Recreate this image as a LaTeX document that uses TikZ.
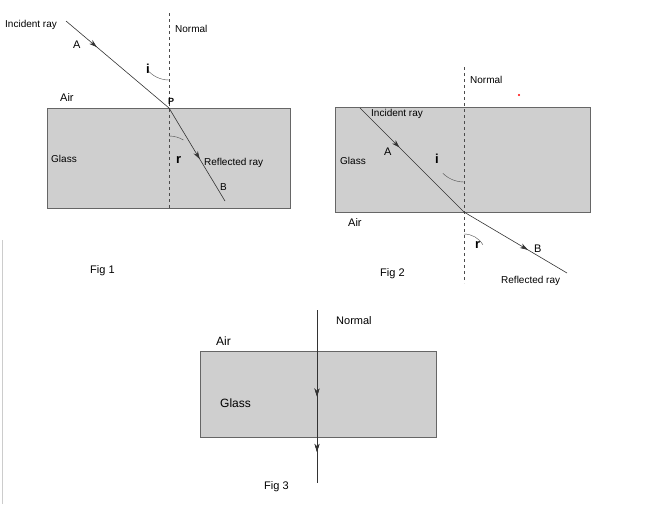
\documentclass[tikz,border=0pt]{standalone}
\usepackage{fontspec}
\setmainfont{Liberation Sans}
\usetikzlibrary{arrows.meta,decorations.markings}
\begin{document}
\begin{tikzpicture}[x=1pt,y=-1pt,
  lbl/.style={inner sep=0pt,anchor=west,font=\fontsize{11}{12}\selectfont},
  slbl/.style={inner sep=0pt,anchor=west,font=\fontsize{10}{11}\selectfont},
  blbl/.style={inner sep=0pt,anchor=west,font=\fontsize{13}{14}\selectfont\bfseries},
  slab/.style={draw=gray!80!black,fill=black!19},
  normal/.style={dashed,gray!60!black,thin},
  ray/.style={draw=black!80,semithick},
  marr/.style={postaction={decorate},decoration={markings,mark=at position #1 with {\arrow{Stealth[length=8pt,width=5pt]}}}}]
\useasboundingbox (0,0) rectangle (660,504);
\draw[gray!40] (2,240) -- (2,504);
% Fig 1
\node[slab,minimum width=243,minimum height=100,inner sep=0,anchor=north west] (s1) at (47,108) {};
\coordinate (n1t) at (169,13); \coordinate (n1b) at (169,208);
\draw[normal] (n1t) -- (n1b);
\coordinate (a1) at (66,21); \coordinate (p1) at (169,108); \coordinate (b1) at (225,201);
\draw[ray,marr=0.3] (a1) -- (p1);
\draw[ray,marr=0.55] (p1) -- (b1);
\draw[black!70] (169,80) arc[start angle=90,end angle=140.2,radius=28];
\draw[black!70] (169,136) arc[start angle=270,end angle=301,radius=28];
\node[slbl] (t1) at (5,25) {Incident ray};
\node[lbl] (t2) at (73,45) {A};
\node[slbl] (t3) at (175,29) {Normal};
\node[blbl] (t4) at (146,69) {i};
\node[lbl] (t5) at (60,98) {Air};
\node[slbl,font=\fontsize{9}{10}\selectfont\bfseries] (t6) at (168,101) {P};
\node[slbl] (t7) at (51,159) {Glass};
\node[blbl] (t8) at (176,160) {r};
\node[slbl] (t9) at (204,163) {Reflected ray};
\node[slbl] (t10) at (220,187) {B};
\node[lbl] (t11) at (90,271) {Fig 1};
% Fig 2
\node[slab,minimum width=255,minimum height=105,inner sep=0,anchor=north west] (s2) at (335,107) {};
\coordinate (n2t) at (464,67); \coordinate (n2b) at (464,283);
\draw[normal] (n2t) -- (n2b);
\coordinate (a2) at (360,108); \coordinate (p2) at (464,212); \coordinate (b2) at (567,273);
\draw[ray,marr=0.38] (a2) -- (p2);
\draw[ray,marr=0.62] (p2) -- (b2);
\draw[black!70] (464,182) arc[start angle=90,end angle=135,radius=30];
\draw[black!70] (464,234) arc[start angle=270,end angle=329,radius=22];
\node[slbl] (u1) at (470,80) {Normal};
\node[circle,fill=red,inner sep=0.8pt] (u0) at (519,95) {};
\node[slbl] (u2) at (371,114) {Incident ray};
\node[lbl] (u3) at (384,152) {A};
\node[slbl] (u4) at (340,161) {Glass};
\node[blbl] (u5) at (435,159) {i};
\node[lbl] (u6) at (348,223) {Air};
\node[blbl] (u7) at (475,245) {r};
\node[lbl] (u8) at (534,249) {B};
\node[lbl] (u9) at (380,274) {Fig 2};
\node[slbl] (u10) at (501,281) {Reflected ray};
% Fig 3
\node[slab,minimum width=236,minimum height=86,inner sep=0,anchor=north west] (s3) at (200,351) {};
\coordinate (c3t) at (317,310); \coordinate (c3b) at (317,483);
\draw[ray,marr=0.5,marr=0.82] (c3t) -- (c3b);
\node[lbl] (v1) at (336,321) {Normal};
\node[lbl,font=\fontsize{12}{13}\selectfont] (v2) at (216,341) {Air};
\node[lbl,font=\fontsize{12}{13}\selectfont] (v3) at (220,403) {Glass};
\node[lbl] (v4) at (264,487) {Fig 3};
\end{tikzpicture}
\end{document}
